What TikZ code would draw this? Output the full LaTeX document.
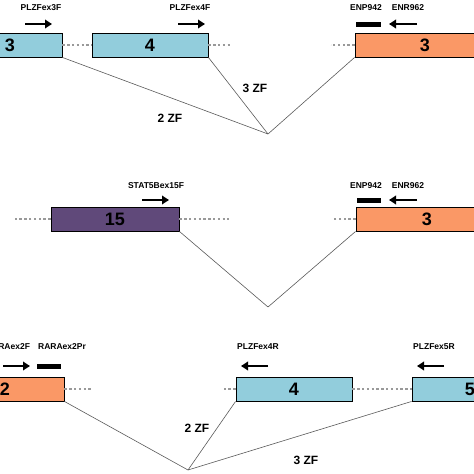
\documentclass[tikz,border=0pt]{standalone}
\usepackage{fontspec}
\setmainfont{Liberation Sans}
\usetikzlibrary{arrows.meta}
\definecolor{exblue}{RGB}{146,205,220}
\definecolor{exorange}{RGB}{250,152,102}
\definecolor{expurple}{RGB}{96,73,122}
\tikzset{
  exon/.style={draw=black, line width=0.9pt, minimum height=24pt, inner sep=0pt,
    font=\fontsize{18}{18}\selectfont\bfseries},
  intron/.style={draw=gray!80, line width=2pt, dash pattern=on 2.4pt off 2.4pt},
  splice/.style={draw=gray!70!black, line width=0.6pt},
  primer/.style={font=\fontsize{8.5}{9}\selectfont\bfseries},
  zf/.style={font=\fontsize{12}{12}\selectfont\bfseries},
  fwd/.style={line width=2.6pt, -{Triangle[length=7pt,width=8.5pt]}},
  probe/.style={line width=5pt}
}
\begin{document}
\begin{tikzpicture}[x=1pt, y=-1pt]
  \useasboundingbox (0,0) rectangle (474,474);
  \clip (0,0) rectangle (474,474);

  % PLZF - RARA
  \node[exon, fill=exblue, minimum width=104pt] (p3) at (10,45) {3};
  \node[exon, fill=exblue, minimum width=116pt] (p4) at (150,45) {4};
  \node[exon, fill=exorange, minimum width=140pt] (r3) at (425,45) {3};
  \coordinate (va) at (268,134);
  \draw[intron] (p3.east) -- (p4.west);
  \draw[intron] (p4.east) -- ++(22,0);
  \draw[intron] (r3.west) -- ++(-24,0);
  \draw[splice] (p3.south east) -- (va);
  \draw[splice] (p4.south east) -- (va);
  \draw[splice] (r3.south west) -- (va);
  \node[primer] (f3) at (41,8) {PLZFex3F};
  \node[primer] (f4) at (190,8) {PLZFex4F};
  \node[primer] (n1) at (366,8) {ENP942};
  \node[primer] (e1) at (408,8) {ENR962};
  \draw[fwd] (25,24) -- (52,24);
  \draw[fwd] (178,24) -- (205,24);
  \draw[probe] (356,24) -- (381,24);
  \draw[fwd] (417,24) -- (389,24);
  \node[zf] (z3a) at (255,88) {3 ZF};
  \node[zf] (z2a) at (170,118) {2 ZF};

  % STAT5B - RARA
  \node[exon, fill=expurple, minimum width=128pt] (s15) at (115,219) {15};
  \node[exon, fill=exorange, minimum width=142pt] (r3b) at (427,219) {3};
  \coordinate (vb) at (268,307);
  \draw[intron] (s15.west) -- ++(-37,0);
  \draw[intron] (s15.east) -- ++(50,0);
  \draw[intron] (r3b.west) -- ++(-23,0);
  \draw[splice] (s15.south east) -- (vb);
  \draw[splice] (r3b.south west) -- (vb);
  \node[primer] (s1) at (156,186) {STAT5Bex15F};
  \node[primer] (n2) at (366,186) {ENP942};
  \node[primer] (e2) at (408,186) {ENR962};
  \draw[fwd] (142,200) -- (169,200);
  \draw[probe] (357,200) -- (381,200);
  \draw[fwd] (417,200) -- (389,200);

  % RARA - PLZF
  \node[exon, fill=exorange, minimum width=118pt] (r2) at (5,389) {2};
  \node[exon, fill=exblue, minimum width=116pt] (q4) at (294,389) {4};
  \node[exon, fill=exblue, minimum width=116pt] (q5) at (470,389) {5};
  \coordinate (vc) at (188,470);
  \draw[intron] (r2.east) -- ++(28,0);
  \draw[intron] (q4.west) -- ++(-14,0);
  \draw[intron] (q4.east) -- (q5.west);
  \draw[splice] (r2.south east) -- (vc);
  \draw[splice] (q4.south west) -- (vc);
  \draw[splice] (q5.south west) -- (vc);
  \node[primer] (a1) at (8,347) {RARAex2F};
  \node[primer] (a2) at (62,347) {RARAex2Pr};
  \node[primer] (r4) at (258,347) {PLZFex4R};
  \node[primer] (r5) at (434,347) {PLZFex5R};
  \draw[fwd] (3,366) -- (30,366);
  \draw[probe] (37,366) -- (61,366);
  \draw[fwd] (268,366) -- (241,366);
  \draw[fwd] (444,366) -- (417,366);
  \node[zf] (z2c) at (197,428) {2 ZF};
  \node[zf] (z3c) at (306,460) {3 ZF};
\end{tikzpicture}
\end{document}
